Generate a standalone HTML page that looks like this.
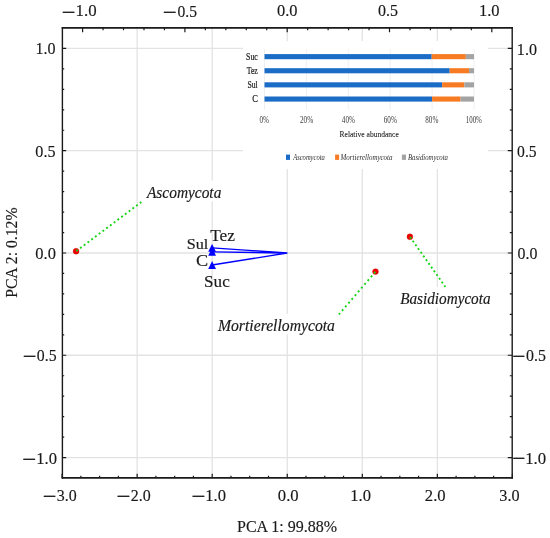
<!DOCTYPE html>
<html><head><meta charset="utf-8"><title>PCA biplot</title>
<style>html,body{margin:0;padding:0;background:#fff;}svg{display:block;}</style>
</head><body>
<svg width="550" height="538" viewBox="0 0 550 538">
<rect x="0" y="0" width="550" height="538" fill="#fff"/>
<path d="M137.15 28V478 M212.20 28V478 M287.25 28V478 M362.30 28V478 M437.35 28V478 M62 48.45H512 M62 150.72H512 M62 253.00H512 M62 355.27H512 M62 457.55H512" stroke="#e3e3e3" stroke-width="1.3" fill="none"/>
<rect x="141.6" y="180.7" width="83.7" height="20.6" fill="#fff"/>
<rect x="213.3" y="313.7" width="125.7" height="20.6" fill="#fff"/>
<rect x="395.9" y="287.0" width="98.6" height="20.6" fill="#fff"/>
<path d="M62.10 478v-4.2 M80.86 478v-2.2 M99.62 478v-2.2 M118.39 478v-2.2 M137.15 478v-4.2 M155.91 478v-2.2 M174.68 478v-2.2 M193.44 478v-2.2 M212.20 478v-4.2 M230.96 478v-2.2 M249.72 478v-2.2 M268.49 478v-2.2 M287.25 478v-4.2 M306.01 478v-2.2 M324.77 478v-2.2 M343.54 478v-2.2 M362.30 478v-4.2 M381.06 478v-2.2 M399.82 478v-2.2 M418.59 478v-2.2 M437.35 478v-4.2 M456.11 478v-2.2 M474.88 478v-2.2 M493.64 478v-2.2 M512.40 478v-4.2 M82.60 28v4.2 M103.06 28v2.2 M123.52 28v2.2 M143.98 28v2.2 M164.44 28v2.2 M184.90 28v4.2 M205.36 28v2.2 M225.82 28v2.2 M246.28 28v2.2 M266.74 28v2.2 M287.20 28v4.2 M307.66 28v2.2 M328.12 28v2.2 M348.58 28v2.2 M369.04 28v2.2 M389.50 28v4.2 M409.96 28v2.2 M430.42 28v2.2 M450.88 28v2.2 M471.34 28v2.2 M491.80 28v4.2 M62 457.55h4.2 M512 457.55h-4.2 M62 437.10h2.2 M512 437.10h-2.2 M62 416.64h2.2 M512 416.64h-2.2 M62 396.19h2.2 M512 396.19h-2.2 M62 375.73h2.2 M512 375.73h-2.2 M62 355.27h4.2 M512 355.27h-4.2 M62 334.82h2.2 M512 334.82h-2.2 M62 314.37h2.2 M512 314.37h-2.2 M62 293.91h2.2 M512 293.91h-2.2 M62 273.45h2.2 M512 273.45h-2.2 M62 253.00h4.2 M512 253.00h-4.2 M62 232.54h2.2 M512 232.54h-2.2 M62 212.09h2.2 M512 212.09h-2.2 M62 191.63h2.2 M512 191.63h-2.2 M62 171.18h2.2 M512 171.18h-2.2 M62 150.72h4.2 M512 150.72h-4.2 M62 130.27h2.2 M512 130.27h-2.2 M62 109.81h2.2 M512 109.81h-2.2 M62 89.36h2.2 M512 89.36h-2.2 M62 68.90h2.2 M512 68.90h-2.2 M62 48.45h4.2 M512 48.45h-4.2" stroke="#1a1a1a" stroke-width="1.2" fill="none"/>
<rect x="243" y="41" width="245" height="128" fill="#fff"/>
<path d="M264.50 48.8V110 M306.40 48.8V110 M348.30 48.8V110 M390.20 48.8V110 M432.10 48.8V110 M474.00 48.8V110" stroke="#ececec" stroke-width="0.8" fill="none"/>
<rect x="264.50" y="54.1" width="167.18" height="5.1" fill="#1a6cc6"/>
<rect x="431.68" y="54.1" width="34.15" height="5.1" fill="#f77b22"/>
<rect x="465.83" y="54.1" width="8.17" height="5.1" fill="#a3a3a3"/>
<rect x="264.50" y="68.2" width="185.20" height="5.1" fill="#1a6cc6"/>
<rect x="449.70" y="68.2" width="19.27" height="5.1" fill="#f77b22"/>
<rect x="468.97" y="68.2" width="5.03" height="5.1" fill="#a3a3a3"/>
<rect x="264.50" y="82.3" width="177.66" height="5.1" fill="#1a6cc6"/>
<rect x="442.16" y="82.3" width="22.21" height="5.1" fill="#f77b22"/>
<rect x="464.36" y="82.3" width="9.64" height="5.1" fill="#a3a3a3"/>
<rect x="264.50" y="96.5" width="167.60" height="5.1" fill="#1a6cc6"/>
<rect x="432.10" y="96.5" width="28.49" height="5.1" fill="#f77b22"/>
<rect x="460.59" y="96.5" width="13.41" height="5.1" fill="#a3a3a3"/>
<rect x="286.0" y="154.6" width="4.0" height="5.3" fill="#1a6cc6"/>
<rect x="335.1" y="154.6" width="4.0" height="5.3" fill="#f77b22"/>
<rect x="401.9" y="154.6" width="4.1" height="5.3" fill="#a3a3a3"/>
<path d="M287.4 253.0L212.1 247.8 M287.4 253.0L212.1 251.8 M287.4 253.0L212.1 265.0" stroke="#0000ff" stroke-width="1.35" fill="none"/>
<path d="M212.1 243.90L216.00 251.70L208.20 251.70Z" fill="#0000ff"/>
<path d="M212.1 247.90L216.00 255.70L208.20 255.70Z" fill="#0000ff"/>
<path d="M212.1 261.10L216.00 268.90L208.20 268.90Z" fill="#0000ff"/>
<circle cx="76.1" cy="251.2" r="2.95" fill="#f00000" stroke="#cc0000" stroke-width="0.35"/>
<circle cx="375.5" cy="271.6" r="2.95" fill="#f00000" stroke="#cc0000" stroke-width="0.35"/>
<circle cx="409.9" cy="236.8" r="2.95" fill="#f00000" stroke="#cc0000" stroke-width="0.35"/>
<path d="M76.34 251.02L141.30 202.10" stroke="#14d414" stroke-width="1.9" stroke-dasharray="1.9 2.784" fill="none"/>
<path d="M375.31 271.83L338.90 314.42" stroke="#14d414" stroke-width="1.9" stroke-dasharray="1.9 3.039" fill="none"/>
<path d="M410.07 237.04L445.36 286.83" stroke="#14d414" stroke-width="1.9" stroke-dasharray="1.9 2.663" fill="none"/>
<path d="M62.4 27.1V478.8M512.2 27.1V478.8" stroke="#1a1a1a" stroke-width="1.4" fill="none"/>
<path d="M61.7 27.95H512.9M61.7 477.9H512.9" stroke="#1a1a1a" stroke-width="1.75" fill="none"/>
<g font-family="'Liberation Serif', serif" stroke="#1a1a1a" stroke-width="0.16"><text transform="translate(35.45,54.30) scale(0.990,1)" font-size="16.24" fill="#1a1a1a">1.0</text><text transform="translate(35.35,156.50) scale(0.986,1)" font-size="16.39" fill="#1a1a1a">0.5</text><text transform="translate(35.34,258.80) scale(1.006,1)" font-size="16.39" fill="#1a1a1a">0.0</text><text transform="translate(22.77,364.09) scale(1.582,1.484)" font-size="15.50" fill="#1a1a1a">−</text><text transform="translate(36.87,361.00) scale(0.983,1)" font-size="16.09" fill="#1a1a1a">0.5</text><text transform="translate(22.35,466.69) scale(1.609,1.484)" font-size="15.50" fill="#1a1a1a">−</text><text transform="translate(36.21,463.80) scale(1.013,1)" font-size="16.39" fill="#1a1a1a">1.0</text><text transform="translate(516.85,54.60) scale(0.981,1)" font-size="16.39" fill="#1a1a1a">1.0</text><text transform="translate(517.07,156.60) scale(0.954,1)" font-size="16.39" fill="#1a1a1a">0.5</text><text transform="translate(517.56,259.40) scale(0.970,1)" font-size="16.39" fill="#1a1a1a">0.0</text><text transform="translate(512.13,364.09) scale(1.512,1.484)" font-size="15.50" fill="#1a1a1a">−</text><text transform="translate(526.06,360.70) scale(0.970,1)" font-size="16.39" fill="#1a1a1a">0.5</text><text transform="translate(512.13,466.39) scale(1.512,1.484)" font-size="15.50" fill="#1a1a1a">−</text><text transform="translate(525.19,463.80) scale(1.024,1)" font-size="16.39" fill="#1a1a1a">1.0</text><text transform="translate(42.78,503.99) scale(1.568,1.484)" font-size="15.50" fill="#1a1a1a">−</text><text transform="translate(56.70,500.50) scale(0.955,1)" font-size="16.69" fill="#1a1a1a">3.0</text><text transform="translate(116.46,503.99) scale(1.596,1.484)" font-size="15.50" fill="#1a1a1a">−</text><text transform="translate(130.68,500.50) scale(0.957,1)" font-size="16.69" fill="#1a1a1a">2.0</text><text transform="translate(191.46,503.99) scale(1.596,1.484)" font-size="15.50" fill="#1a1a1a">−</text><text transform="translate(205.31,500.50) scale(0.995,1)" font-size="16.69" fill="#1a1a1a">1.0</text><text transform="translate(277.83,501.20) scale(0.998,1)" font-size="16.69" fill="#1a1a1a">0.0</text><text transform="translate(350.31,500.50) scale(0.995,1)" font-size="16.69" fill="#1a1a1a">1.0</text><text transform="translate(424.85,500.50) scale(0.998,1)" font-size="16.69" fill="#1a1a1a">2.0</text><text transform="translate(499.29,500.50) scale(0.971,1)" font-size="16.69" fill="#1a1a1a">3.0</text><text transform="translate(61.87,19.59) scale(1.582,1.484)" font-size="15.50" fill="#1a1a1a">−</text><text transform="translate(75.58,15.90) scale(1.039,1)" font-size="16.24" fill="#1a1a1a">1.0</text><text transform="translate(162.75,20.19) scale(1.609,1.484)" font-size="15.50" fill="#1a1a1a">−</text><text transform="translate(177.58,16.60) scale(0.958,1)" font-size="16.24" fill="#1a1a1a">0.5</text><text transform="translate(277.04,15.90) scale(1.010,1)" font-size="16.24" fill="#1a1a1a">0.0</text><text transform="translate(378.06,15.90) scale(0.984,1)" font-size="16.24" fill="#1a1a1a">0.5</text><text transform="translate(478.91,15.90) scale(1.017,1)" font-size="16.24" fill="#1a1a1a">1.0</text><text transform="translate(237.02,531.60) scale(0.977,1)" font-size="16.39" fill="#1a1a1a">PCA 1: 99.88%</text><text transform="translate(16.90,297.87) rotate(-90) scale(0.978,1)" font-size="16.09" fill="#1a1a1a">PCA 2: 0.12%</text><text transform="translate(146.95,197.50) scale(0.951,1)" font-size="16.21" font-style="italic" fill="#1a1a1a">Ascomycota</text><text transform="translate(217.96,330.50) scale(1.001,1)" font-size="15.68" font-style="italic" fill="#1a1a1a">Mortierellomycota</text><text transform="translate(400.25,303.80) scale(0.952,1)" font-size="15.97" font-style="italic" fill="#1a1a1a">Basidiomycota</text><text transform="translate(210.15,240.80) scale(1.091,1)" font-size="15.88" fill="#1a1a1a">Tez</text><text transform="translate(186.64,248.50) scale(1.045,1)" font-size="15.54" fill="#1a1a1a">Sul</text><text transform="translate(196.07,265.60) scale(1.115,1)" font-size="16.36" fill="#1a1a1a">C</text><text transform="translate(204.09,287.20) scale(1.064,1)" font-size="16.06" fill="#1a1a1a">Suc</text><text transform="translate(246.10,59.50) scale(0.813,1)" font-size="9.55" fill="#1a1a1b" stroke="#1a1a1b" stroke-width="0.22">Suc</text><text transform="translate(246.75,73.80) scale(0.774,1)" font-size="9.92" fill="#1a1a1b" stroke="#1a1a1b" stroke-width="0.22">Tez</text><text transform="translate(247.40,87.50) scale(0.821,1)" font-size="9.35" fill="#1a1a1b" stroke="#1a1a1b" stroke-width="0.22">Sul</text><text transform="translate(252.36,101.80) scale(0.842,1)" font-size="10.00" fill="#1a1a1b" stroke="#1a1a1b" stroke-width="0.22">C</text><text transform="translate(259.51,122.50) scale(0.731,1)" font-size="9.77" fill="#3a3a3a" stroke="none">0%</text><text transform="translate(299.97,122.50) scale(0.740,1)" font-size="9.77" fill="#3a3a3a" stroke="none">20%</text><text transform="translate(341.86,122.50) scale(0.730,1)" font-size="9.77" fill="#3a3a3a" stroke="none">40%</text><text transform="translate(383.67,122.50) scale(0.740,1)" font-size="9.77" fill="#3a3a3a" stroke="none">60%</text><text transform="translate(425.32,122.50) scale(0.727,1)" font-size="9.77" fill="#3a3a3a" stroke="none">80%</text><text transform="translate(465.78,122.50) scale(0.704,1)" font-size="9.77" fill="#3a3a3a" stroke="none">100%</text><text transform="translate(339.57,136.80) scale(0.832,1)" font-size="9.06" fill="#222" stroke="#222" stroke-width="0.1">Relative abundance</text><text transform="translate(293.16,159.80) scale(0.734,1)" font-size="8.94" font-style="italic" fill="#303030" stroke="none">Ascomycota</text><text transform="translate(340.57,159.80) scale(0.821,1)" font-size="8.49" font-style="italic" fill="#303030" stroke="none">Mortierellomycota</text><text transform="translate(407.93,159.80) scale(0.795,1)" font-size="8.49" font-style="italic" fill="#303030" stroke="none">Basidiomycota</text></g>
</svg>
</body></html>
